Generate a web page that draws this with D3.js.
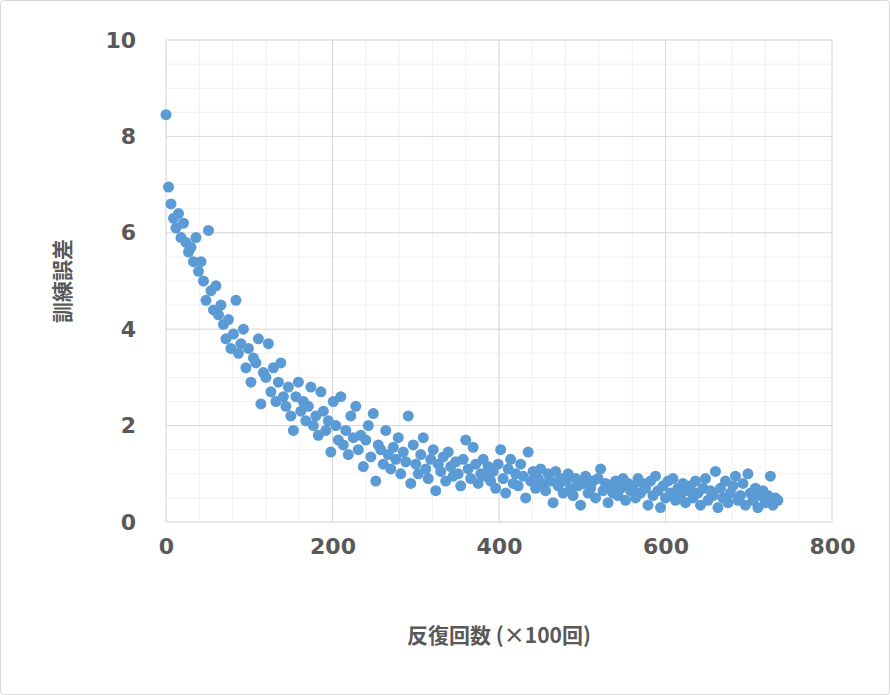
<!DOCTYPE html>
<html><head><meta charset="utf-8">
<script src="https://cdn.jsdelivr.net/npm/d3@7"></script>
<style>body{margin:0;background:#fff}</style>
</head><body>
<svg id="chart" width="890" height="695"></svg>
<script>
// training error sampled every 3 iterations (x100)
const step = 3;
const trainErr = [
 8.45,6.95,6.6,6.3,6.1,6.4,5.9,6.2,5.8,5.6,
 5.7,5.4,5.9,5.2,5.4,5.0,4.6,6.05,4.8,4.4,
 4.9,4.3,4.5,4.1,3.8,4.2,3.6,3.9,4.6,3.5,
 3.7,4.0,3.2,3.6,2.9,3.4,3.3,3.8,2.45,3.1,
 3.0,3.7,2.7,3.2,2.5,2.9,3.3,2.6,2.4,2.8,
 2.2,1.9,2.6,2.9,2.3,2.5,2.1,2.4,2.8,2.0,
 2.2,1.8,2.7,2.3,1.9,2.1,1.45,2.5,2.0,1.7,
 2.6,1.6,1.9,1.4,2.2,1.75,2.4,1.5,1.8,1.15,
 1.7,2.0,1.35,2.25,0.85,1.6,1.5,1.2,1.9,1.4,
 1.1,1.55,1.3,1.75,1.0,1.45,1.25,2.2,0.8,1.6,
 1.2,1.0,1.4,1.75,1.1,0.9,1.3,1.5,0.65,1.2,
 1.05,1.35,0.85,1.45,1.15,0.95,1.25,1.0,0.75,1.3,
 1.7,1.1,0.9,1.55,1.2,0.8,1.0,1.3,0.95,1.15,
 0.85,1.05,0.7,1.2,1.5,0.9,0.6,1.1,1.3,0.8,
 1.0,0.75,1.2,0.95,0.5,1.45,0.85,1.05,0.7,0.9,
 1.1,0.8,0.65,1.0,0.85,0.4,1.05,0.75,0.9,0.6,
 0.85,1.0,0.7,0.55,0.9,0.75,0.35,0.8,0.95,0.6,
 0.7,0.85,0.5,0.9,1.1,0.65,0.8,0.4,0.75,0.6,
 0.85,0.55,0.7,0.9,0.45,0.8,0.65,0.75,0.5,0.9,
 0.6,0.8,0.7,0.35,0.85,0.55,0.95,0.65,0.3,0.75,
 0.5,0.85,0.6,0.9,0.45,0.7,0.55,0.8,0.4,0.65,
 0.75,0.5,0.85,0.6,0.35,0.7,0.9,0.45,0.65,0.55,
 1.05,0.3,0.7,0.5,0.85,0.4,0.6,0.75,0.95,0.45,
 0.55,0.8,0.35,1.0,0.6,0.45,0.7,0.3,0.55,0.65,
 0.4,0.55,0.95,0.35,0.5,0.45
];
const xTicks = [0,200,400,600,800];
const yTicks = [0,2,4,6,8,10];
const xTitle = "反復回数 (×100回)";
const yTitle = "訓練誤差";

const points = trainErr.map((v,i)=>({it:i*step, err:v}));

const svg = d3.select("#chart");
svg.append("rect").attr("x",0.5).attr("y",0.5).attr("width",889).attr("height",694)
  .attr("fill","#fff").attr("stroke","#d9d9d9").attr("rx",3);

const x = d3.scaleLinear().domain([0,800]).range([166,832]);
const y = d3.scaleLinear().domain([0,10]).range([522,40]);

// minor grid
const g = svg.append("g");
g.selectAll(".mx").data(d3.range(0,801,40)).join("line")
  .attr("x1",d=>x(d)).attr("x2",d=>x(d)).attr("y1",y(0)).attr("y2",y(10))
  .attr("stroke","#f0f0f0");
g.selectAll(".my").data(d3.range(0,10.01,0.5)).join("line")
  .attr("y1",d=>y(d)).attr("y2",d=>y(d)).attr("x1",x(0)).attr("x2",x(800))
  .attr("stroke","#f0f0f0");
// major grid
g.selectAll(".Mx").data(xTicks).join("line")
  .attr("x1",d=>x(d)).attr("x2",d=>x(d)).attr("y1",y(0)).attr("y2",y(10))
  .attr("stroke","#d9d9d9");
g.selectAll(".My").data(yTicks).join("line")
  .attr("y1",d=>y(d)).attr("y2",d=>y(d)).attr("x1",x(0)).attr("x2",x(800))
  .attr("stroke","#d9d9d9");

const font = "'Noto Sans CJK JP', 'DejaVu Sans', sans-serif";
const xa = svg.append("g").attr("transform",`translate(0,${y(0)})`)
  .call(d3.axisBottom(x).tickValues(xTicks).tickSize(0).tickPadding(16));
const ya = svg.append("g").attr("transform",`translate(${x(0)},0)`)
  .call(d3.axisLeft(y).tickValues(yTicks).tickSize(0).tickPadding(30));
[xa,ya].forEach(a=>{
  a.select(".domain").remove();
  a.selectAll("text").attr("fill","#595959").style("font-size","22px")
   .style("font-weight","bold").style("font-family","'DejaVu Sans', sans-serif");
});

svg.append("g").selectAll("circle").data(points).join("circle")
  .attr("cx",d=>x(d.it)).attr("cy",d=>y(d.err)).attr("r",5.5)
  .attr("fill","#5b9bd5");

svg.append("text").attr("x",(x(0)+x(800))/2).attr("y",643).attr("text-anchor","middle")
  .attr("fill","#595959").style("font-size","21px").style("font-weight","bold")
  .style("font-family",font).text(xTitle);
svg.append("text").attr("transform",`translate(70,${(y(0)+y(10))/2}) rotate(-90)`)
  .attr("text-anchor","middle").attr("fill","#595959").style("font-size","21px")
  .style("font-weight","bold").style("font-family",font).text(yTitle);
</script>
</body></html>
